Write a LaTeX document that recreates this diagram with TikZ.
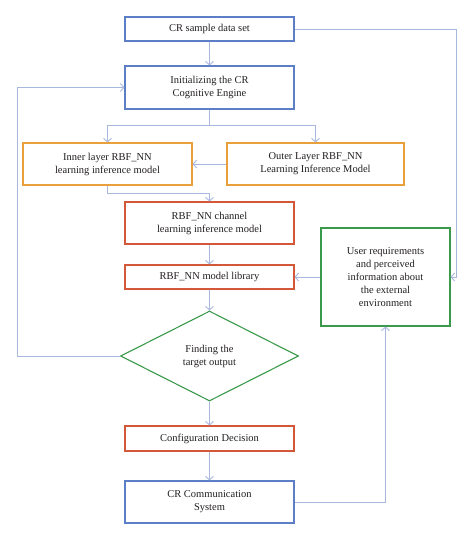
\documentclass[tikz,border=0pt]{standalone}
\usepackage{fontspec}
\setmainfont{Liberation Serif}
\usepackage{xcolor}
\definecolor{boxblue}{HTML}{5B7EC6}
\definecolor{boxorange}{HTML}{E9A03B}
\definecolor{boxred}{HTML}{D4573A}
\definecolor{boxgreen}{HTML}{3A9A4A}
\definecolor{linkblue}{HTML}{A8B7DE}
\definecolor{textdark}{HTML}{231F20}
\usetikzlibrary{shapes.geometric,arrows.meta,positioning}

\begin{document}
\begin{tikzpicture}[x=1pt, y=-1pt,
  box/.style={draw=#1, line width=1.1pt, fill=white, text=textdark, align=center,
    minimum width=169pt, minimum height=24pt, inner sep=2pt, font=\fontsize{10.5}{13}\selectfont},
  link/.style={draw=linkblue, line width=0.9pt, -{Straight Barb[length=3.5pt, width=8pt]}}]
        \useasboundingbox (0,0) rectangle (474,541);
        \node[box=boxblue] (data) at (209.5,29) {CR sample data set};
        \node[box=boxblue, minimum height=43pt] (init) at (209.5,87.5) {Initializing the CR\\Cognitive Engine};
        \node[box=boxorange, minimum height=42pt] (inner) at (107.5,164) {Inner layer RBF\_NN\\learning inference model};
        \node[box=boxorange, minimum width=177pt, minimum height=42pt] (outer) at (315.5,164) {Outer Layer RBF\_NN\\Learning Inference Model};
        \node[box=boxred, minimum height=42pt] (channel) at (209.5,223) {RBF\_NN channel\\learning inference model};
        \node[box=boxred] (library) at (209.5,277) {RBF\_NN model library};
        \node[diamond, draw=boxgreen, line width=1.1pt, fill=white, text=textdark, align=center,
          minimum width=178pt, minimum height=90pt, inner sep=0pt, font=\fontsize{10.5}{13}\selectfont] (find) at (209.5,356) {Finding the\\target output};
        \node[box=boxred, minimum height=25pt] (config) at (209.5,438.5) {Configuration Decision};
        \node[box=boxblue, minimum height=42pt] (comm) at (209.5,502) {CR Communication\\System};
        \node[box=boxgreen, minimum width=129pt, minimum height=98pt] (user) at (385.5,277) {User requirements\\and perceived\\information about\\the external\\environment};
        \draw[link] (data) -- (init);
        \draw[link] (init.south) -- ++(0,16) -| (inner.north);
        \draw[link] (init.south) -- ++(0,16) -| (outer.north);
        \draw[link] (outer) -- (inner);
        \draw[link] (inner.south) -- ++(0,8) -| (channel.north);
        \draw[link] (channel) -- (library);
        \draw[link] (library) -- (find);
        \draw[link] (find) -- (config);
        \draw[link] (config) -- (comm);
        \draw[link] (find.west) -- ++(-103,0) |- (init.west);
        \draw[link] (data.east) -- ++(162,0) |- (user.east);
        \draw[link] (user.west) -- (library.east);
        \draw[link] (comm.east) -| (user.south);
      \end{tikzpicture}
\end{document}
